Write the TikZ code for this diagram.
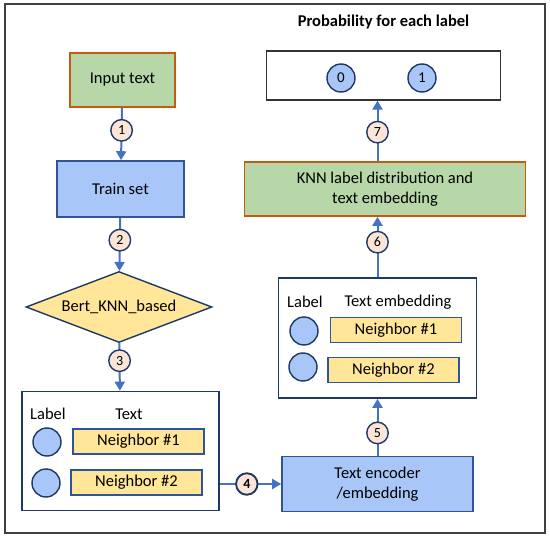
\documentclass[tikz,border=0pt]{standalone}
\usepackage{fontspec}
\setmainfont{Carlito}
\usepackage{tikz}
\usetikzlibrary{shapes.geometric,arrows.meta}
\definecolor{boxgreen}{RGB}{183,215,168}
\definecolor{edgeorange}{RGB}{197,90,17}
\definecolor{boxblue}{RGB}{168,199,248}
\definecolor{edgeblue}{RGB}{47,85,151}
\definecolor{boxyellow}{RGB}{255,230,153}
\definecolor{navy}{RGB}{31,56,100}
\definecolor{arrowblue}{RGB}{68,114,196}
\definecolor{peach}{RGB}{251,229,214}
\newcommand{\figfont}{\fontsize{16.5}{20}\selectfont}
\newcommand{\numfont}{\fontsize{14}{16}\selectfont}
\tikzstyle{inputbox} = [rectangle,
                        minimum width=105pt,
                        minimum height=54pt,
                        text centered,
                        line width=1.6pt,
                        draw=edgeorange,
                        fill=boxgreen]
\tikzstyle{result} = [rectangle,
                      minimum width=281pt,
                      minimum height=54pt,
                      align=center,
                      line width=1.6pt,
                      draw=edgeorange,
                      fill=boxgreen]
\tikzstyle{process} = [rectangle,
                       minimum width=127pt,
                       minimum height=56pt,
                       align=center,
                       line width=1.6pt,
                       draw=edgeblue,
                       fill=boxblue]
\tikzstyle{decision} = [diamond,
                        aspect=2.62,
                        minimum width=186pt,
                        minimum height=71pt,
                        inner sep=0pt,
                        text centered,
                        line width=1.4pt,
                        draw=navy,
                        fill=boxyellow]
\tikzstyle{panel} = [rectangle,
                     minimum width=197pt,
                     minimum height=119pt,
                     line width=1.6pt,
                     draw=navy,
                     fill=white]
\tikzstyle{outbox} = [rectangle,
                      minimum width=234pt,
                      minimum height=49pt,
                      line width=1.3pt,
                      draw=black!80,
                      fill=white]
\tikzstyle{neighbor} = [rectangle,
                        minimum width=131pt,
                        minimum height=25pt,
                        inner sep=0pt,
                        line width=1.3pt,
                        draw=edgeblue,
                        fill=boxyellow]
\tikzstyle{dot} = [circle,
                   minimum size=28pt,
                   inner sep=0pt,
                   line width=1.4pt,
                   draw=navy,
                   fill=boxblue]
\tikzstyle{tag} = [inner sep=0pt]
\tikzstyle{stepnum} = [circle,
                       minimum size=21.5pt,
                       inner sep=0pt,
                       line width=1.4pt,
                       draw=navy,
                       fill=peach,
                       font=\numfont]
\tikzstyle{arrow} = [line width=2pt,
                     draw=arrowblue,
                     ->,
                     >={Triangle[length=9pt,width=10pt]}]

\begin{document}
\begin{tikzpicture}[x=1pt, y=-1pt, node distance=109pt, font=\figfont]

    \useasboundingbox (0,0) rectangle (550,538);
    \draw [line width=1.8pt, draw=black!75] (5,4) rectangle (545,533);

    \node (input) [inputbox] at (122.5,80)                                     {Input text};
    \node (train) [process,  below of=input, xshift=-2pt]                     {Train set};
    \node (bert)  [decision, below of=train, node distance=118pt, xshift=-1.5pt] {Bert\_KNN\_based};
    \node (nbrL)  [panel,    below of=bert,  node distance=144pt, xshift=1.5pt]  {};
    \node (enc)   [process,  right of=nbrL,  node distance=257pt, yshift=-33pt,
                   minimum width=191pt, minimum height=55pt]                  {Text encoder\\/embedding};
    \node (nbrR)  [panel,    above of=enc,   node distance=146pt, minimum width=198pt, minimum height=120pt] {};
    \node (knn)   [result,   above of=nbrR,  node distance=149pt, xshift=7.5pt] {KNN label distribution and\\text embedding};
    \node (prob)  [outbox,   above of=knn,   node distance=113.5pt, xshift=-1.5pt] {};
    \node (title) [tag,      above of=prob,  node distance=53.5pt,
                   font=\figfont\bfseries]                                   {Probability for each label};

    % neighbours found in the train set
    \node (lblL)  [tag]      at (48,414)    {Label};
    \node (txtL)  [tag]      at (129,414)   {Text};
    \node (dotL1) [dot]      at (47,442)    {};
    \node (dotL2) [dot]      at (46,483)    {};
    \node (nbL1)  [neighbor] at (138.5,441.5) {Neighbor \#1};
    \node (nbL2)  [neighbor] at (136.5,482.5) {Neighbor \#2};

    % neighbours after the encoder
    \node (lblR)  [tag]      at (305,302)   {Label};
    \node (txtR)  [tag]      at (398,302)   {Text embedding};
    \node (dotR1) [dot]      at (304,331)   {};
    \node (dotR2) [dot]      at (303,367)   {};
    \node (nbR1)  [neighbor] at (396,330)   {Neighbor \#1};
    \node (nbR2)  [neighbor] at (393.5,370) {Neighbor \#2};

    % probability per label
    \node (p0) [dot, font=\fontsize{15}{17}\selectfont] at (341,78) {0};
    \node (p1) [dot, font=\fontsize{15}{17}\selectfont] at (422,78) {1};

    \draw [arrow] (input) -- node[stepnum, pos=0.43] {1} (train);
    \draw [arrow] (train) -- node[stepnum, pos=0.42] {2} (bert);
    \draw [arrow] (bert)  -- node[stepnum, pos=0.37] {3} (nbrL);
    \draw [arrow] (nbrL.east |- enc.west) -- node[stepnum, pos=0.44, line width=1.9pt,
                   font=\numfont\bfseries] {4} (enc.west);
    \draw [arrow] (enc)   -- node[stepnum, pos=0.4]  {5} (nbrR);
    \draw [arrow] (nbrR.north) -- node[stepnum, pos=0.58] {6} (nbrR.north |- knn.south);
    \draw [arrow] (nbrR.north |- knn.north) -- node[stepnum, pos=0.48] {7} (nbrR.north |- prob.south);

\end{tikzpicture}
\end{document}
